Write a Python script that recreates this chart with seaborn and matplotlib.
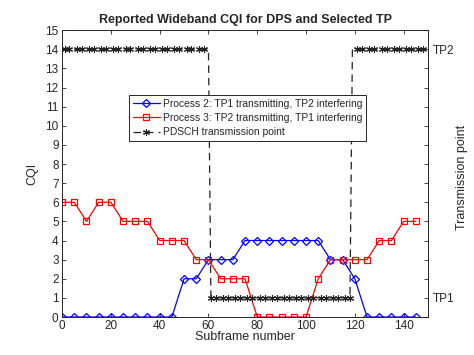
import numpy as np
import matplotlib
matplotlib.use('Agg')
import matplotlib.pyplot as plt
import seaborn as sns
import pandas as pd

# CQI reports every 5 subframes
subframes = [0, 5, 10, 15, 20, 25, 30, 35, 40, 45, 50, 55, 60, 65, 70,
             75, 80, 85, 90, 95, 100, 105, 110, 115, 120, 125, 130, 135, 140, 145]
cqi_p2 = [0, 0, 0, 0, 0, 0, 0, 0, 0, 0, 2, 2, 3, 3, 3,
          4, 4, 4, 4, 4, 4, 4, 3, 3, 2, 0, 0, 0, 0, 0]
cqi_p3 = [6, 6, 5, 6, 6, 5, 5, 5, 4, 4, 4, 3, 3, 2, 2,
          2, 0, 0, 0, 0, 0, 2, 3, 3, 3, 3, 4, 4, 5, 5]

# selected TP per subframe (14 -> TP2, 1 -> TP1)
pdsch_sf = list(range(150))
pdsch_tp = [14] * 61 + [1] * 58 + [14] * 31

tp_labels = {1: 'TP1', 14: 'TP2'}

sns.set_style('ticks')
plt.rcParams['font.family'] = ['Liberation Sans', 'DejaVu Sans']

fig = plt.figure(figsize=(4.74, 3.55), dpi=100)
ax = fig.add_axes([0.131, 0.107, 0.772, 0.808])

df = pd.DataFrame({'sf': subframes, 'p2': cqi_p2, 'p3': cqi_p3})
sns.lineplot(data=df, x='sf', y='p2', ax=ax, color='#0000ff', lw=0.9,
             marker='D', markersize=4.5, markerfacecolor='none', markeredgecolor='#0000ff',
             markeredgewidth=0.9, label='Process 2: TP1 transmitting, TP2 interfering')
sns.lineplot(data=df, x='sf', y='p3', ax=ax, color='#ff0000', lw=0.9,
             marker='s', markersize=4.5, markerfacecolor='none', markeredgecolor='#ff0000',
             markeredgewidth=0.9, label='Process 3: TP2 transmitting, TP1 interfering')
dp = pd.DataFrame({'sf': pdsch_sf, 'tp': pdsch_tp})
mev = [i for i in range(len(pdsch_sf)) if i % 5 in (1, 3)]
sns.lineplot(data=dp, x='sf', y='tp', ax=ax, color='#222222', lw=0.9,
             linestyle=(0, (6, 4)), marker=(6, 2, 0), markersize=5,
             markeredgecolor='#222222', markeredgewidth=0.8, markevery=mev,
             label='PDSCH transmission point')

ax.set_xlim(0, 150)
ax.set_ylim(0, 15)
ax.set_xticks(range(0, 141, 20))
ax.set_yticks(range(0, 16))
ax.tick_params(direction='in', labelsize=8.5, top=True, length=3, width=0.6,
               colors='#262626', pad=2.5)
for s in ax.spines.values():
    s.set_linewidth(0.7)
    s.set_color('#262626')
ax.set_xlabel('Subframe number', fontsize=9, labelpad=-1)
ax.set_ylabel('CQI', fontsize=9, labelpad=5)
ax.set_title('Reported Wideband CQI for DPS and Selected TP', fontsize=9,
             fontweight='bold', pad=5)

ax2 = ax.twinx()
ax2.set_ylim(0, 15)
ax2.set_yticks(range(0, 16))
ax2.set_yticklabels([tp_labels.get(v, '') for v in range(0, 16)])
ax2.tick_params(direction='in', labelsize=8.5, length=3, width=0.6, colors='#262626')
for s in ax2.spines.values():
    s.set_visible(False)
fig.text(462 / 474, 0.5, 'Transmission point', rotation=90, fontsize=9,
         ha='center', va='center', color='#262626')

leg = ax.legend(loc='upper left', bbox_to_anchor=(0.17, 0.792), fontsize=7.4,
                frameon=True, fancybox=False, edgecolor='#262626', framealpha=1,
                handlelength=2.6, borderpad=0.35, labelspacing=0.42, handletextpad=0.3)
leg.get_frame().set_linewidth(0.7)

fig.savefig('out.png', dpi=100)
